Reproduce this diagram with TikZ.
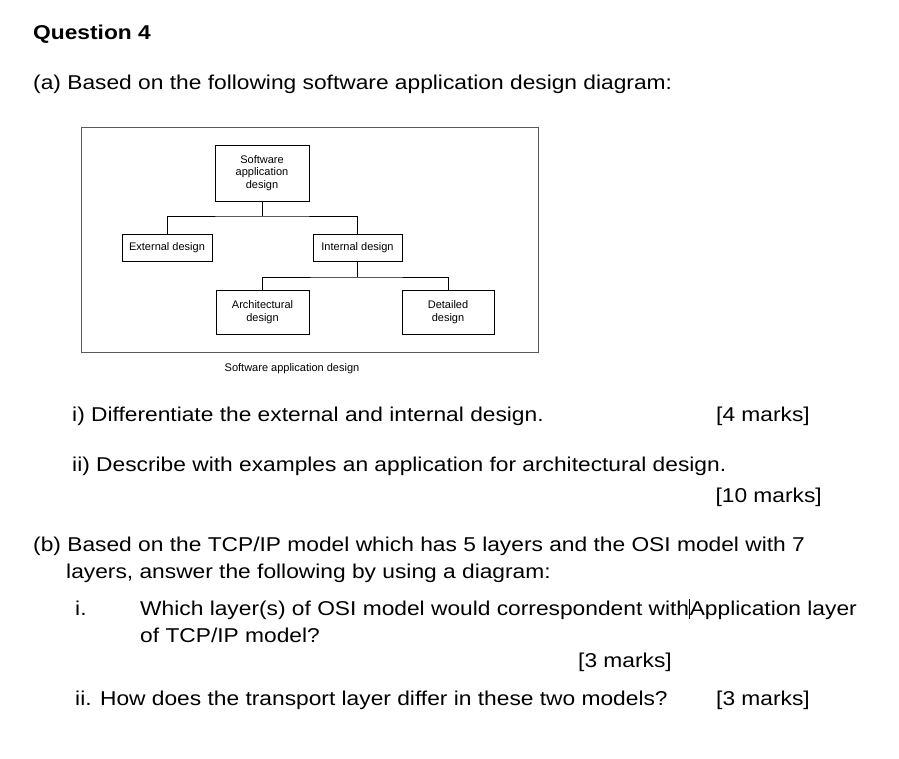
\documentclass[tikz,border=0pt]{standalone}
\usepackage{fontspec}
\setmainfont{Liberation Sans}
\begin{document}
\begin{tikzpicture}[x=1pt,y=-1pt,
  body/.style={anchor=base west,inner sep=0,xscale=1.138,transform shape,font=\fontsize{20}{22}\selectfont},
  bodyr/.style={anchor=base east,inner sep=0,xscale=1.138,transform shape,font=\fontsize{20}{22}\selectfont},
  dbox/.style={draw,line width=0.6pt,align=center,inner sep=0,font=\fontsize{11}{12.5}\selectfont},
  conn/.style={line width=0.6pt,line join=miter}]
\useasboundingbox (0,0) rectangle (899,759);
\node[body,font=\bfseries\fontsize{20}{22}\selectfont] (q) at (33,40) {Question 4};
\node[body] (a) at (33,90) {(a) Based on the following software application design diagram:};
\draw[line width=0.6pt,gray!70!black] (81,127) rectangle (538,352);
\node[dbox,minimum width=94,minimum height=56] (sad) at (262,173) {Software\\application\\design};
\node[dbox,minimum width=90,minimum height=27] (ext) at (167,247.5) {External design};
\node[dbox,minimum width=89,minimum height=27] (int) at (357.5,247.5) {Internal design};
\node[dbox,minimum width=93,minimum height=44] (arc) at (262.5,312) {Architectural\\design};
\node[dbox,minimum width=92,minimum height=44] (det) at (448,312) {Detailed\\design};
\coordinate (j1) at (262,216);
\coordinate (j2) at (357.5,277);
\draw[conn] (sad.south) -- (j1);
\draw[conn] (ext.north) |- (j1) -| (int.north);
\draw[conn] (int.south) -- (j2);
\draw[conn] (arc.north) |- (j2) -| (det.north);
\node[font=\fontsize{11}{12}\selectfont,inner sep=0] (cap) at (292,369) {Software application design};
\node[body] (i1) at (72,421) {i) Differentiate the external and internal design.};
\node[bodyr] (m1) at (810,421) {[4 marks]};
\node[body] (i2) at (72,471) {ii) Describe with examples an application for architectural design.};
\node[bodyr] (m2) at (822,502) {[10 marks]};
\node[body] (b) at (33,551) {(b) Based on the TCP/IP model which has 5 layers and the OSI model with 7};
\node[body] (b2) at (66,578) {layers, answer the following by using a diagram:};
\node[body] (bi) at (75,615) {i.};
\node[body] (bi1) at (140,615) {Which layer(s) of OSI model would correspondent with\rule[-4pt]{0.5pt}{20pt}Application layer};
\node[body] (bi2) at (140,642) {of TCP/IP model?};
\node[bodyr] (m3) at (672,667) {[3 marks]};
\node[body] (bii) at (75,705) {ii. How does the transport layer differ in these two models?};
\node[bodyr] (m4) at (810,705) {[3 marks]};
\end{tikzpicture}
\end{document}
